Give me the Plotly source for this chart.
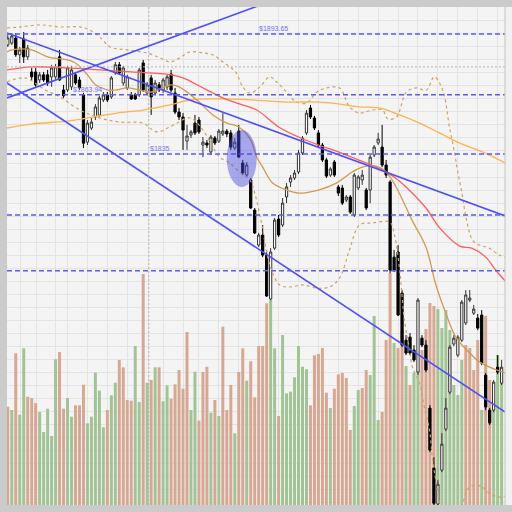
import plotly.graph_objects as go

# ---------------- data ----------------
bar_index = list(range(125))

open_ = [1888.3,1889.2,1891.7,1883.5,1891.2,1882.5,1875.1,1875.1,1871.2,1873.7,
         1873.7,1872.7,1872.7,1882.5,1866.3,1866.3,1867.8,1873.7,1871.2,1863.9,
         1840.8,1847.7,1853.1,1854.0,1861.4,1863.9,1862.9,1874.6,1878.6,1869.7,
         1867.3,1863.9,1863.9,1863.9,1879.5,1864.8,1872.2,1864.8,1868.8,1866.3,
         1867.8,1874.1,1864.8,1855.5,1853.1,1841.3,1844.3,1850.1,1851.6,1839.4,
         1840.4,1836.0,1842.8,1841.3,1844.8,1846.2,1845.3,1837.9,1846.2,1830.6,
         1824.7,1822.3,1807.6,1790.5,1795.4,1785.6,1764.1,1789.0,1803.2,1800.3,
         1814.0,1821.3,1823.3,1826.2,1835.5,1845.3,1857.5,1852.6,1845.3,1839.4,
         1832.1,1824.7,1831.1,1818.9,1818.4,1812.5,1814.0,1805.2,1818.4,1822.3,
         1817.4,1817.4,1834.5,1840.4,1838.4,1829.6,1821.3,1784.6,1787.1,1767.0,
         1744.0,1745.5,1739.2,1728.4,1745.0,1741.6,1710.8,1681.5,1663.9,1680.5,
         1700.5,1718.6,1742.1,1736.7,1744.0,1752.4,1763.6,1757.2,1754.8,1756.3,
         1726.9,1709.8,1709.8,1730.8,1723.0]
high = [1893.2,1894.1,1894.1,1887.3,1894.6,1888.3,1877.1,1877.1,1875.1,1875.1,
        1876.1,1878.6,1879.0,1885.9,1868.8,1878.1,1878.1,1875.1,1872.7,1864.9,
        1851.6,1852.6,1859.4,1863.4,1865.3,1865.3,1873.1,1880.0,1880.0,1878.1,
        1873.7,1865.3,1864.9,1877.1,1881.0,1870.2,1873.7,1871.2,1870.2,1872.2,
        1873.7,1876.1,1867.3,1857.5,1855.0,1849.2,1846.7,1854.1,1853.1,1843.3,
        1841.8,1844.3,1843.8,1847.2,1855.0,1847.2,1846.7,1842.8,1849.2,1832.1,
        1831.1,1823.3,1808.6,1796.4,1800.3,1788.1,1789.0,1803.7,1805.2,1813.5,
        1820.8,1824.7,1827.2,1837.0,1843.8,1856.5,1859.0,1853.6,1846.7,1840.4,
        1833.1,1828.6,1832.1,1819.9,1819.9,1815.0,1815.0,1825.7,1824.7,1827.2,
        1818.4,1834.5,1839.4,1845.3,1849.2,1832.1,1822.3,1788.1,1790.5,1768.5,
        1746.5,1747.5,1741.6,1764.6,1746.5,1744.0,1712.3,1686.8,1675.6,1698.6,
        1715.7,1741.6,1746.5,1746.5,1763.6,1768.5,1768.5,1761.2,1756.8,1758.7,
        1727.9,1710.8,1724.5,1736.7,1734.3]
low = [1887.3,1888.3,1882.5,1879.5,1879.5,1881.0,1871.2,1867.8,1869.7,1870.2,
       1868.3,1867.8,1871.2,1870.7,1862.4,1865.3,1866.3,1868.8,1866.3,1837.9,
       1839.4,1846.7,1851.6,1853.1,1860.4,1860.4,1861.9,1873.7,1873.7,1868.3,
       1866.3,1861.4,1861.4,1862.9,1865.3,1863.9,1854.1,1863.9,1865.3,1864.8,
       1866.3,1865.3,1854.5,1851.6,1837.0,1837.0,1842.8,1844.3,1844.8,1833.5,
       1837.9,1834.5,1839.4,1840.4,1843.8,1843.3,1837.0,1837.0,1833.1,1824.7,
       1823.8,1808.1,1795.9,1789.5,1784.6,1765.1,1763.6,1788.1,1794.4,1799.3,
       1811.0,1818.9,1822.3,1825.2,1834.5,1844.3,1852.1,1846.7,1838.4,1831.1,
       1823.3,1823.8,1823.8,1814.5,1810.1,1811.5,1805.7,1804.2,1817.4,1819.9,
       1807.6,1811.0,1833.5,1839.4,1828.6,1823.3,1776.8,1777.3,1755.8,1740.6,
       1736.7,1736.7,1733.3,1727.0,1740.6,1728.4,1689.3,1663.4,1663.4,1679.5,
       1699.5,1717.6,1741.1,1735.7,1743.1,1751.4,1762.6,1756.3,1748.9,1731.8,
       1709.8,1702.5,1708.8,1727.4,1722.1]
close = [1891.7,1892.7,1883.5,1885.9,1882.5,1886.8,1872.7,1868.8,1873.7,1871.2,
         1869.7,1877.1,1877.6,1871.2,1863.4,1877.1,1876.1,1869.7,1867.3,1840.3,
         1850.1,1850.6,1858.0,1862.4,1863.9,1861.4,1872.2,1878.6,1874.6,1877.1,
         1872.7,1861.9,1861.9,1876.1,1866.3,1868.8,1862.9,1869.7,1866.3,1871.2,
         1872.7,1866.3,1855.5,1853.1,1846.7,1843.8,1845.8,1845.3,1845.8,1840.8,
         1839.4,1843.3,1840.4,1846.2,1846.2,1844.8,1838.4,1840.8,1833.5,1825.7,
         1829.6,1808.6,1796.4,1795.4,1785.6,1765.6,1787.1,1802.7,1795.4,1811.0,
         1818.9,1823.3,1825.7,1835.5,1842.8,1855.0,1853.1,1847.7,1839.4,1832.1,
         1824.2,1827.7,1824.7,1815.9,1811.0,1814.0,1806.6,1824.7,1823.8,1824.7,
         1808.6,1833.5,1838.4,1842.3,1829.6,1824.7,1778.3,1778.3,1756.3,1741.6,
         1737.7,1737.7,1734.3,1763.6,1741.6,1729.4,1690.3,1664.3,1673.6,1693.2,
         1710.8,1740.6,1745.0,1745.5,1762.6,1766.1,1764.6,1759.2,1749.9,1732.8,
         1711.3,1703.5,1723.5,1728.4,1730.8]
volume = [983,950,1517,903,1567,1083,1070,1020,930,730,
          963,690,1457,1530,963,1070,883,997,997,1203,
          817,883,1323,1143,777,950,1097,1223,1450,1377,
          1050,1043,1590,1030,2310,1223,1250,1377,1377,1037,
          1197,1063,1207,1350,1163,1730,950,1333,843,1330,
          1383,923,1050,890,1783,950,1200,717,1330,1567,
          1243,1437,1077,1590,1590,2017,2050,1567,890,1700,
          1117,1133,1277,1590,1383,1357,997,1497,1510,1570,
          1123,970,1163,1307,1320,1270,750,990,1150,1170,
          1350,1300,1890,850,930,1650,2320,1620,1570,1750,
          1390,1200,1320,1350,1550,1760,2020,1990,1960,1770,
          1950,1750,1200,1100,1450,1600,1570,1350,1650,950,
          1890,1250,1050,1500,1250]
vol_up = [0,1,0,1,1,0,0,0,1,1, 1,1,1,0,0,1,1,0,0,0,
          1,1,1,1,1,0,1,1,0,0, 0,0,1,1,0,1,0,1,0,1,
          1,0,0,0,0,0,1,1,0,0, 0,1,0,1,0,0,0,1,0,0,
          1,0,0,0,0,0,1,1,0,1, 1,1,1,1,1,1,0,0,0,0,
          0,1,0,0,0,0,0,1,1,0, 0,1,1,1,0,0,0,1,0,0,
          1,0,1,1,0,0,0,0,1,1, 1,1,1,1,1,0,0,0,0,1,
          0,0,1,1,1]

# moving averages and bands: (bar index, price) points
ma_fast_x = [-0.2,1,6,10,15,17,20,22,25,27,30,33,36,41,43,47.5,51.5,55,58,61,62.5,64,66.5,70,73,
             78,82.5,86.5,89,92.5,95,97.5,101.5,105,107.5,110,112.5,116,118.5,121,124.9]
ma_fast_y = [1884.9,1885.9,1885.9,1882.5,1881.0,1879.5,1873.7,1868.8,1866.3,1866.3,1867.3,1866.3,
             1865.3,1868.8,1867.8,1861.4,1854.1,1850.1,1848.2,1841.8,1833.5,1828.6,1820.8,1817.4,
             1815.9,1817.4,1820.8,1826.2,1828.6,1829.1,1826.2,1818.9,1802.7,1789.5,1771.0,1757.2,
             1745.5,1737.7,1733.3,1730.8,1727.9]
ma_mid_x = [-0.2,6,15,23,31,41,44,49,54,57.5,62.5,68,73,78,83,88,93,97,100,105,108.5,113.5,
            116.5,120,122.5,124.9]
ma_mid_y = [1876.1,1877.6,1877.1,1876.1,1875.1,1873.7,1872.2,1867.3,1862.4,1859.9,1856.5,
            1848.2,1843.3,1839.4,1836.0,1832.1,1828.2,1823.8,1818.9,1808.6,1798.8,1790.0,
            1789.0,1784.6,1778.3,1772.9]
ma_slow_x = [-0.2,6.3,14.9,21.4,27.4,33.9,40.7,45.7,53.2,61.5,70,78.3,83.3,88.3,93.3,98.4,
             103.4,108.4,113.4,119.2,124.9]
ma_slow_y = [1847.7,1849.7,1851.1,1853.1,1855.0,1856.5,1859.0,1861.4,1861.9,1861.4,1860.4,
             1860.4,1859.4,1858.0,1857.5,1854.1,1850.1,1845.3,1840.4,1836.0,1830.6]
bb_up_x = [-0.2,3.1,8.1,13.1,18.1,20.6,23.1,25.7,29.9,34.9,38.2,40.7,43.2,45.7,49,51.5,54,
           57.2,59,60.8,63.3,65.8,67.5,70,72.5,75,77.6,80.1,83.3,85.8,88.3,91.6,94.1,95.4,
           97.6,100.1,102.6,105.1,107.1,109.2,110.9,112.2,112.9,113.9,115.2,116.7,118.4,
           120.9,123.4,124.9]
bb_up_y = [1896.6,1897.1,1898.1,1897.1,1897.1,1895.6,1892.2,1887.3,1885.9,1884.4,1882.0,
           1880.0,1882.0,1884.9,1884.4,1883.4,1880.0,1875.1,1867.8,1864.8,1867.8,1872.7,
           1870.2,1865.3,1860.4,1859.9,1865.3,1867.3,1867.3,1858.0,1855.0,1856.5,1856.5,
           1852.1,1853.1,1865.3,1867.3,1866.3,1872.7,1866.3,1848.2,1835.5,1827.2,1817.4,
           1802.7,1792.9,1790.5,1789.0,1785.6,1784.6]
bb_lo_x = [-0.2,4.3,9.4,13.1,18.1,23.1,28.2,33.9,37.4,40.7,45.7,49,51.5,53.2,55.7,58.2,60.8,
           62,63.8,65.8,68.3,70.8,74,77.6,80.8,83.3,85.8,88.3,91.6,95.9,97.1,98.4,99.6,100.9,
           101.6,103.4,104.6,105.9,106.6,107.6,110.1,112.2,114.2,115.9,117.7,119.2,120.9,
           123.4,124.9]
bb_lo_y = [1870.2,1872.2,1866.3,1862.9,1856.5,1852.6,1850.6,1850.1,1845.8,1848.2,1852.6,
           1846.7,1838.4,1833.5,1830.6,1826.2,1822.3,1815.9,1800.3,1780.7,1771.0,1770.0,
           1771.0,1769.5,1770.0,1774.4,1788.1,1800.3,1801.3,1801.7,1795.4,1778.3,1753.8,
           1739.2,1730.8,1723.0,1711.3,1700.0,1686.8,1674.1,1651.1,1656.0,1664.3,1672.2,
           1673.1,1672.2,1669.2,1667.3,1667.8]

# trend lines: (bar index, price) end points
trend_x = [[-0.2, 63.0], [-0.2, 124.9], [-0.2, 124.9]]
trend_y = [[1862.4, 1907.5], [1894.2, 1804.7], [1869.7, 1708.9]]

levels = [1893.65, 1863.94, 1835.00, 1805.2, 1778.0]
level_labels = ["$1893.65", "$1863.94", "$1835", "", ""]
label_x = [62.5, 15.8, 35.2, 0, 0]

cross_x = 35.4
cross_y = 1877.6
ellipse_x = [55.0, 62.5]
ellipse_y = [1818.9, 1846.7]

grid_x = [3.3, 7.1, 12.1, 15, 20, 25, 30, 35.4, 39, 44, 48, 53, 58, 63, 68, 73, 78,
          83, 88, 93, 98, 103, 108, 113, 118, 123]

price_range = [1663.45, 1906.85]
vol_range = [0, 4980]

# ---------------- figure ----------------
GREEN = '#a2c393'
SALMON = '#d7a792'
fig = go.Figure()

fig.add_trace(go.Bar(
    x=bar_index, y=volume, yaxis='y',
    marker=dict(color=[GREEN if u else SALMON for u in vol_up], line=dict(width=0)),
    hoverinfo='skip', showlegend=False))

fig.add_trace(go.Candlestick(
    x=bar_index, open=open_, high=high, low=low, close=close, yaxis='y2',
    increasing=dict(fillcolor='#ffffff', line=dict(color='#333333', width=1)),
    decreasing=dict(fillcolor='#000000', line=dict(color='#000000', width=1)),
    whiskerwidth=0, showlegend=False, hoverinfo='skip'))

def line(x, y, color, width=1.2, dash='solid', shape='spline'):
    fig.add_trace(go.Scatter(x=x, y=y, yaxis='y2', mode='lines',
                             line=dict(color=color, width=width, dash=dash, shape=shape),
                             hoverinfo='skip', showlegend=False))

line(bb_up_x, bb_up_y, '#cfa164', 1.2, 'dot')
line(bb_lo_x, bb_lo_y, '#cfa164', 1.2, 'dot')
line(ma_slow_x, ma_slow_y, '#ffb24d', 1.3)
line(ma_mid_x, ma_mid_y, '#ff5c5c', 1.3)
line(ma_fast_x, ma_fast_y, '#cf9a52', 1.3)
for tx, ty in zip(trend_x, trend_y):
    line(tx, ty, '#4f4ff5', 1.6, 'solid', 'linear')

shapes = []
for lv in levels:
    shapes.append(dict(type='line', xref='paper', x0=0, x1=1, yref='y2', y0=lv, y1=lv,
                       line=dict(color='#5a5af0', width=1.5, dash='5px,3px')))
shapes.append(dict(type='line', xref='paper', x0=0, x1=1, yref='y2', y0=cross_y, y1=cross_y,
                   line=dict(color='#b4b4b4', width=1, dash='2px,2px')))
shapes.append(dict(type='line', xref='x', x0=cross_x, x1=cross_x, yref='paper', y0=0, y1=1,
                   line=dict(color='#b4b4b4', width=1, dash='2px,2px')))
shapes.append(dict(type='circle', xref='x', yref='y2',
                   x0=ellipse_x[0], x1=ellipse_x[1], y0=ellipse_y[0], y1=ellipse_y[1],
                   fillcolor='rgba(70,70,225,0.45)', line=dict(width=0)))
# light empty price-scale strip at the right edge of the chart
shapes.append(dict(type='rect', xref='paper', yref='paper', x0=1.0, x1=1.016, y0=0, y1=1,
                   fillcolor='#f1f1f1', line=dict(width=0), layer='below'))
shapes.append(dict(type='line', xref='paper', yref='paper', x0=1.0, x1=1.0, y0=0, y1=1,
                   line=dict(color='#c4c4c4', width=1)))

annotations = []
for lv, txt, lx in zip(levels, level_labels, label_x):
    if txt:
        annotations.append(dict(x=lx, y=lv, xref='x', yref='y2', text=txt, showarrow=False,
                                xanchor='left', yanchor='bottom', yshift=0,
                                font=dict(family='Liberation Sans, Arial', size=7, color='#7272f2')))

fig.update_layout(
    width=512, height=512,
    margin=dict(l=7, r=7, t=7, b=7),
    paper_bgcolor='#cbcbcb', plot_bgcolor='#f4f4f4',
    bargap=0.25, boxgap=0.2, showlegend=False,
    shapes=shapes, annotations=annotations,
    xaxis=dict(range=[-0.2, 124.85], showticklabels=False, ticks='', showgrid=True,
               gridcolor='#e3e3e3', gridwidth=1, tickmode='array', tickvals=grid_x,
               zeroline=False, rangeslider=dict(visible=False), showline=False),
    yaxis=dict(range=vol_range, showgrid=False, showticklabels=False, ticks='', zeroline=False),
    yaxis2=dict(range=price_range, overlaying='y', side='right', showgrid=True,
                gridcolor='#e3e3e3', gridwidth=1, tick0=1900.2, dtick=6.37,
                showticklabels=False, ticks='', zeroline=False),
)

fig.write_html("out.html", config={'displayModeBar': False},
               post_script="document.body.style.margin='0';document.body.style.background='#cbcbcb';")
